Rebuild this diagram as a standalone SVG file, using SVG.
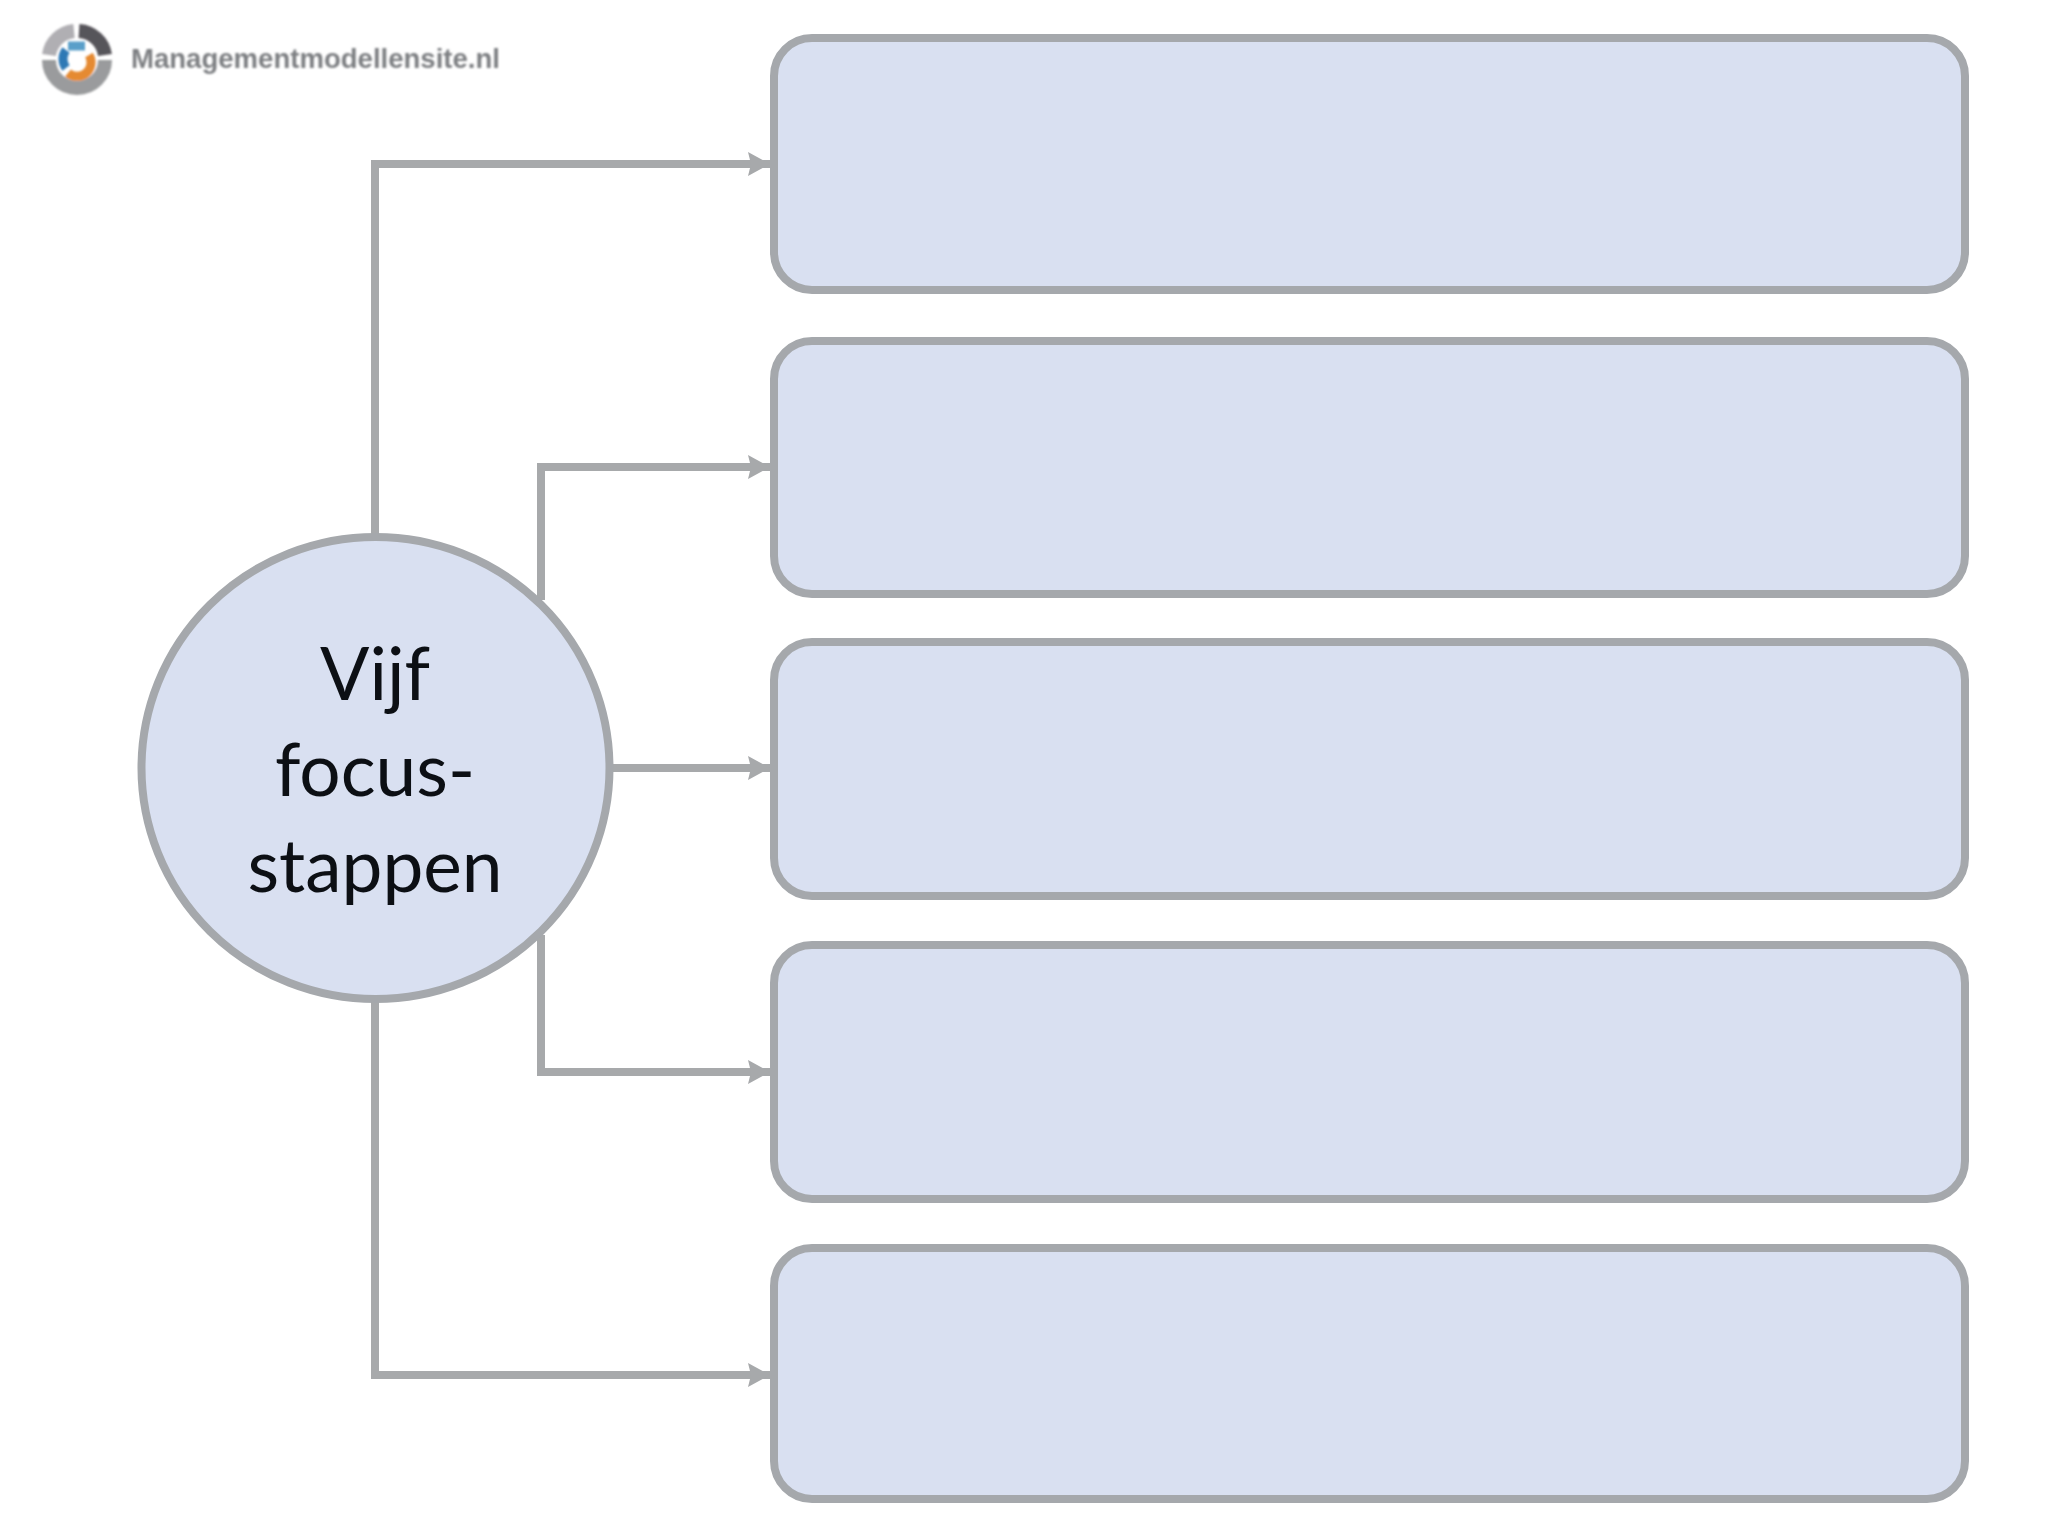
<svg xmlns="http://www.w3.org/2000/svg" width="2048" height="1536" viewBox="0 0 2048 1536">
<style>
.box{fill:#d9e0f1;stroke:#a5a8ac;stroke-width:8}
.conn{fill:none;stroke:#a7a9ab;stroke-width:8}
.lbl{font-family:"Lato","Open Sans",sans-serif;font-size:73px;fill:#0c0f14;text-anchor:middle}
.brand{font-family:"Liberation Sans",Arial,sans-serif;font-weight:700;font-size:27px;fill:#7d7f82}
.ring{fill:none;stroke-width:14}
.core{fill:none;stroke-width:9}
</style>
<defs>
<marker id="arrow" markerUnits="userSpaceOnUse" markerWidth="26" markerHeight="28" refX="24" refY="14" orient="auto">
<path d="M2 2L24 14L2 26L5 14Z" fill="#a7a9ab"/>
</marker>
<filter id="soft" filterUnits="userSpaceOnUse" x="20" y="10" width="500" height="90"><feGaussianBlur stdDeviation="0.8"/></filter>
</defs>
<rect width="2048" height="1536" fill="#ffffff"/>
<g id="logo" filter="url(#soft)">
<path class="ring" stroke="#b0afb3" d="M49 55A28 28 0 0 1 74 31"/>
<path class="ring" stroke="#57545a" d="M79 31A28 28 0 0 1 105 55"/>
<path class="ring" stroke="#9a9b9d" d="M105 60A28 28 0 0 1 49 60"/>
<path class="core" stroke="#2f79b5" d="M66 50A15 15 0 0 0 66 68"/>
<path class="core" stroke="#5a9fc9" d="M68 46H85"/>
<path class="core" stroke="#e58a33" d="M89 55A14 14 0 0 1 68 73"/>
<text class="brand" x="131" y="68" textLength="369" lengthAdjust="spacingAndGlyphs">Managementmodellensite.nl</text>
</g>
<g id="connectors">
<path class="conn" marker-end="url(#arrow)" d="M375 535V164H770"/>
<path class="conn" marker-end="url(#arrow)" d="M541 600V467H770"/>
<path class="conn" marker-end="url(#arrow)" d="M612 768H770"/>
<path class="conn" marker-end="url(#arrow)" d="M541 935V1072H770"/>
<path class="conn" marker-end="url(#arrow)" d="M375 1000V1375H770"/>
</g>
<g id="center">
<ellipse class="box" cx="375.500" cy="768" rx="234" ry="231"/>
<text class="lbl" x="375" y="700">Vijf</text>
<text class="lbl" x="375" y="796">focus-</text>
<text class="lbl" x="375" y="892">stappen</text>
</g>
<g id="box1"><rect class="box" x="774" y="38" width="1191" height="252" rx="38"/></g>
<g id="box2"><rect class="box" x="774" y="341" width="1191" height="253" rx="38"/></g>
<g id="box3"><rect class="box" x="774" y="642" width="1191" height="254" rx="38"/></g>
<g id="box4"><rect class="box" x="774" y="945" width="1191" height="254" rx="38"/></g>
<g id="box5"><rect class="box" x="774" y="1248" width="1191" height="251" rx="38"/></g>
</svg>
